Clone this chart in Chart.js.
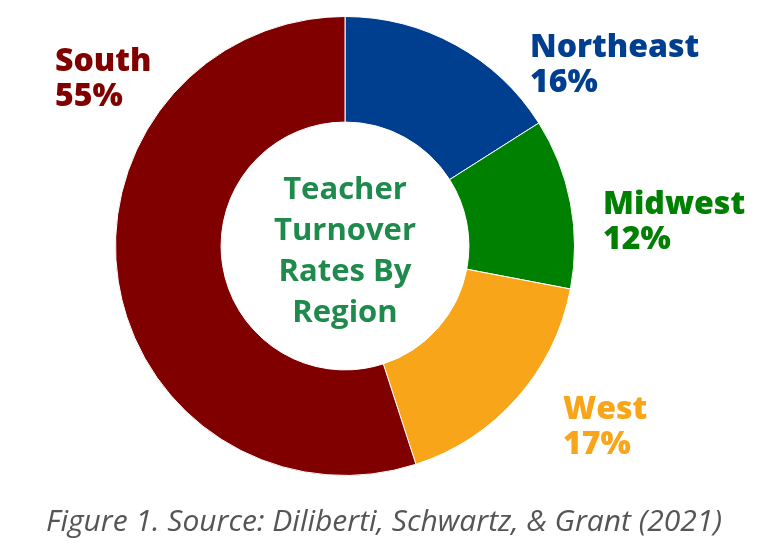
<!DOCTYPE html>
<html><head><meta charset="utf-8">
<script src="https://cdn.jsdelivr.net/npm/chart.js@4"></script>
<style>html,body{margin:0;padding:0;background:#fff}</style>
</head><body>
<canvas id="c" width="768" height="558"></canvas>
<script>
const categories = ["Northeast","Midwest","West","South"];
const values = [16,12,17,55];
const colors = ["#003f8f","#008000","#f9a51a","#800000"];
const labelPos = [[530,48],[603,205],[563,410],[55,62]];
const centerLines = ["Teacher","Turnover","Rates By","Region"];
const caption = "Figure 1. Source: Diliberti, Schwartz, & Grant (2021)";

const textPlugin = {
  id:'txt',
  afterDraw(chart){
    const ctx = chart.ctx;
    ctx.save();
    ctx.textBaseline='middle';
    ctx.font = "800 32px 'Open Sans', 'DejaVu Sans', sans-serif";
    categories.forEach((c,i)=>{
      ctx.fillStyle = colors[i];
      ctx.textAlign='left';
      ctx.fillText(c, labelPos[i][0], labelPos[i][1]);
      ctx.fillText(values[i]+"%", labelPos[i][0], labelPos[i][1]+35);
    });
    const m = chart.getDatasetMeta(0).data[0];
    ctx.fillStyle="#1e8a4c";
    ctx.textAlign='center';
    ctx.font = "bold 31px 'Open Sans', 'DejaVu Sans', sans-serif";
    centerLines.forEach((l,i)=>ctx.fillText(l, m.x, m.y-56+i*41));
    ctx.fillStyle="#555";
    ctx.font = "italic 30px 'Open Sans', 'DejaVu Sans', sans-serif";
    ctx.fillText(caption, 384, 522);
    ctx.restore();
  }
};

new Chart(document.getElementById('c'),{
  type:'doughnut',
  data:{labels:categories,datasets:[{data:values,backgroundColor:colors,borderColor:'#fff',borderWidth:1}]},
  options:{
    responsive:false,animation:false,cutout:'54%',
    layout:{padding:{left:115,right:193,top:16,bottom:82}},
    plugins:{legend:{display:false},tooltip:{enabled:false}}
  },
  plugins:[textPlugin]
});
</script>
</body></html>
